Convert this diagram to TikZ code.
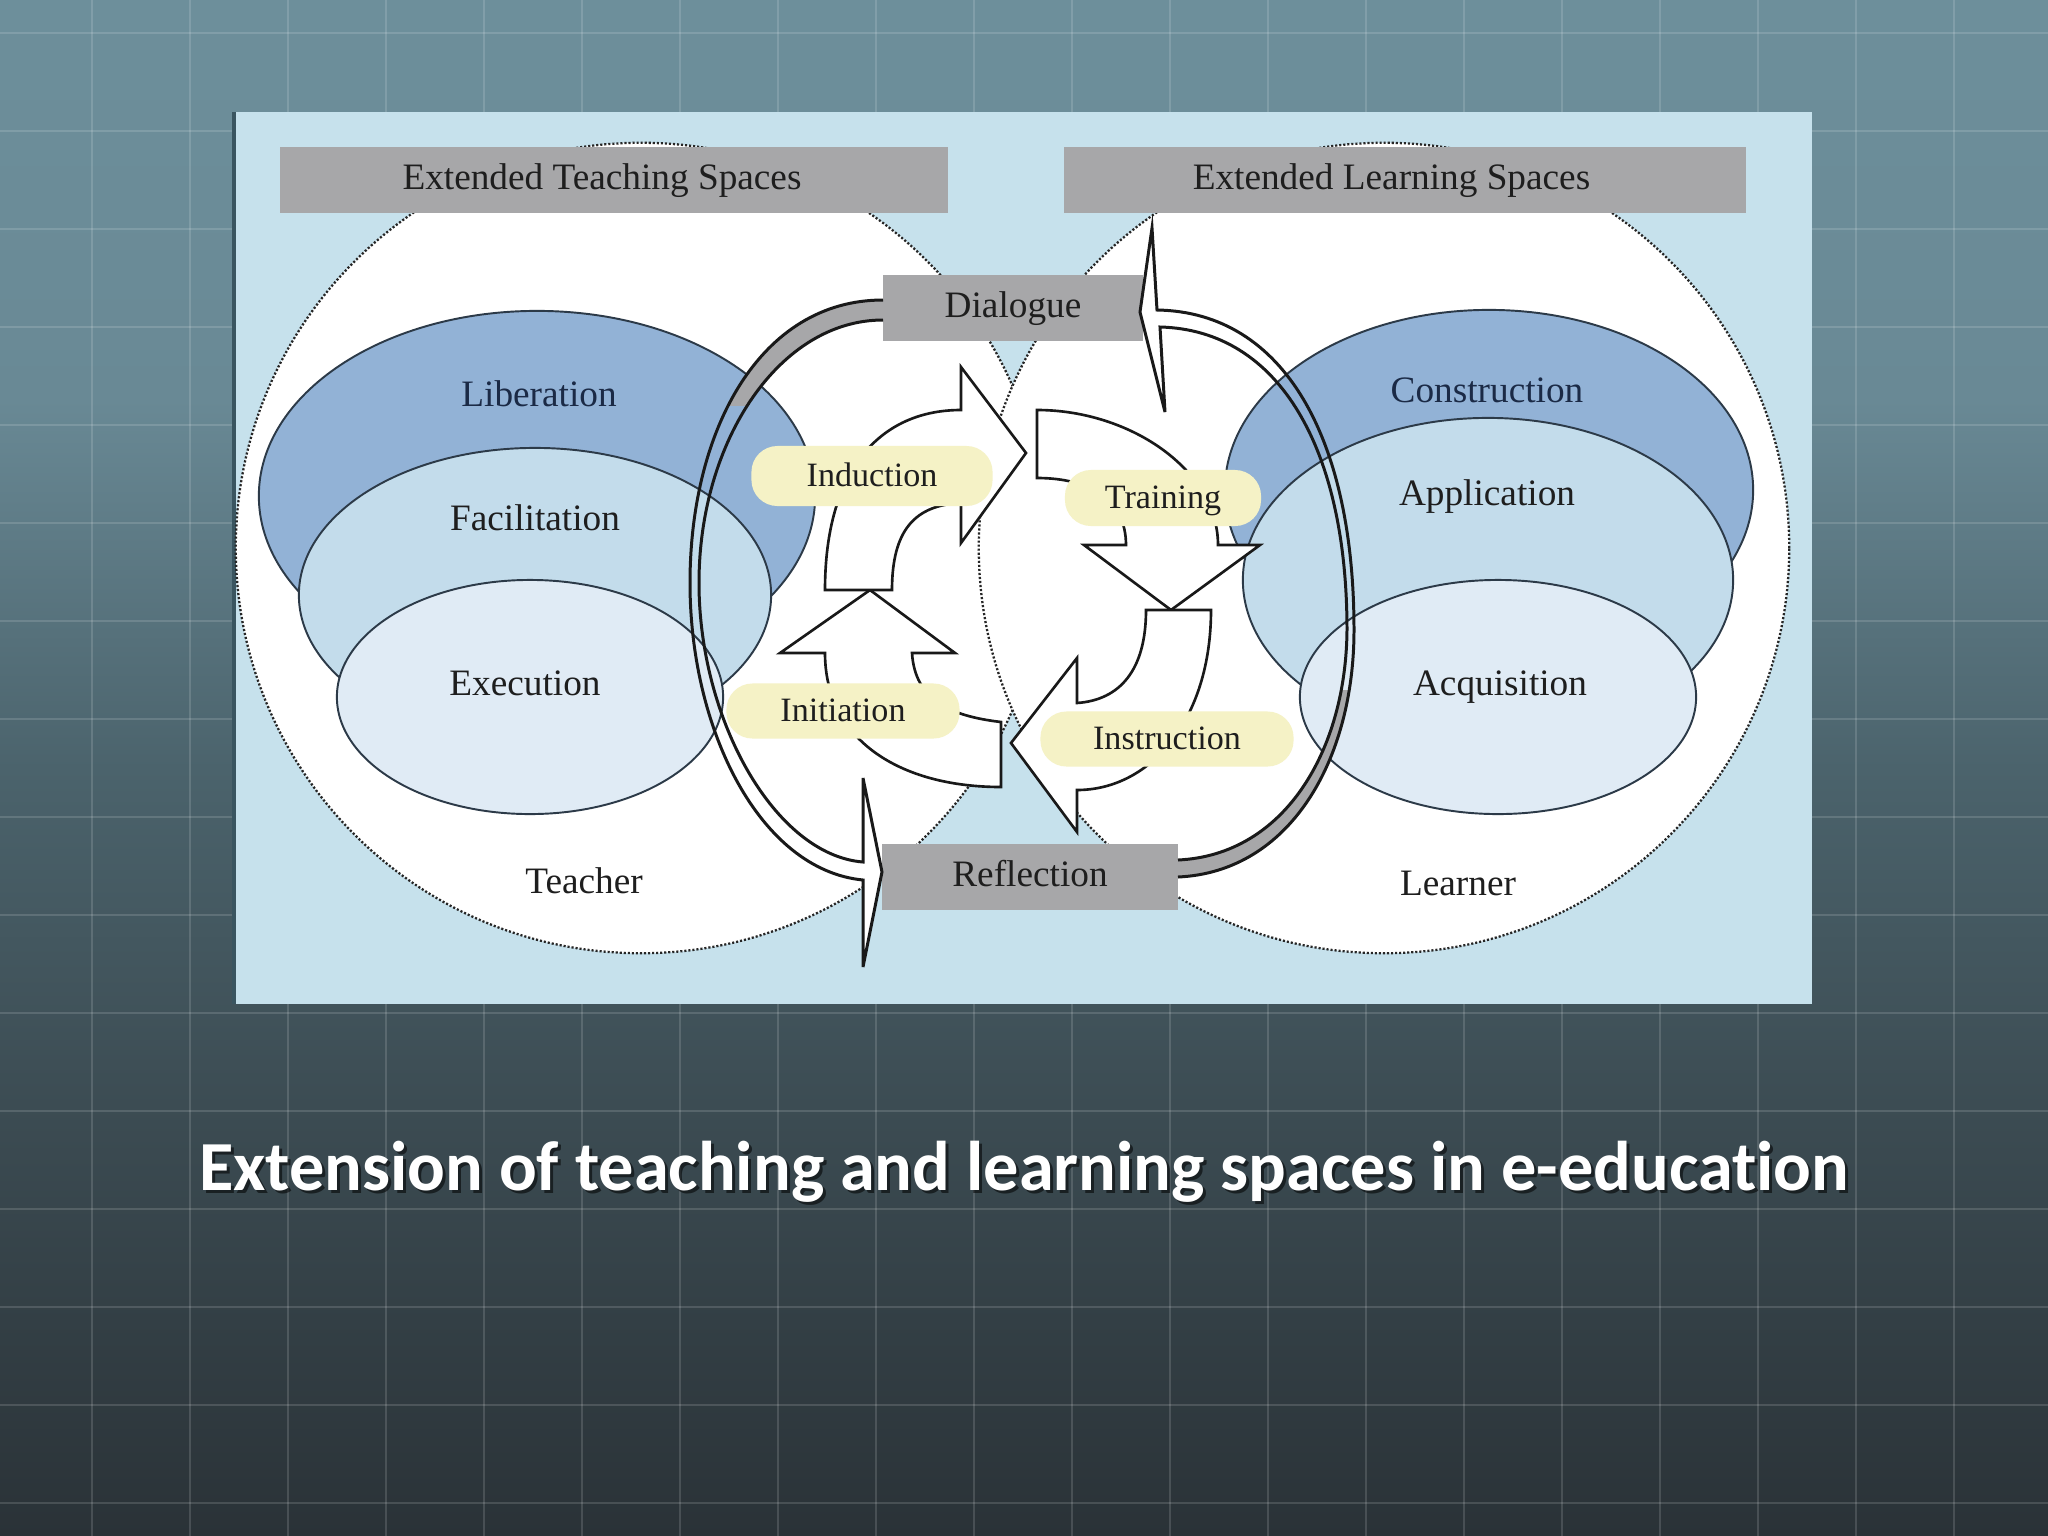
\documentclass[tikz,border=0pt]{standalone}
\usepackage{fontspec}
\setmainfont{Liberation Serif}
\newfontfamily\capfont[Ligatures=NoCommon]{Carlito}
\definecolor{bgtop}{HTML}{6D8F9B}
\definecolor{bghigh}{HTML}{698995}
\definecolor{bgmid}{HTML}{4B636C}
\definecolor{bglow}{HTML}{3C4C53}
\definecolor{bgbot}{HTML}{2A3237}
\definecolor{panelblue}{HTML}{C6E1EC}
\definecolor{paneledge}{HTML}{3A5560}
\definecolor{boxgray}{HTML}{A7A7A9}
\definecolor{bluedeep}{HTML}{92B2D6}
\definecolor{bluemid}{HTML}{C3DCEB}
\definecolor{bluepale}{HTML}{E0EBF5}
\definecolor{ringline}{HTML}{2C3A48}
\definecolor{pillyel}{HTML}{F5F2C6}
\definecolor{txtdark}{HTML}{1E1E1E}
\definecolor{navy}{HTML}{1B2A46}
\pgfdeclareverticalshading{slidebg}{100bp}{color(0bp)=(bgbot); color(25bp)=(bgbot); color(39bp)=(bglow); color(50bp)=(bgmid); color(62bp)=(bghigh); color(75bp)=(bgtop); color(100bp)=(bgtop)}

\begin{document}
\begin{tikzpicture}[x=0.01cm,y=-0.01cm,
  gridln/.style={draw=white,opacity=0.14,line width=0.7pt},
  dotring/.style={fill=white,draw=black!85,line width=0.65pt,dash pattern=on 0.6pt off 0.55pt},
  ring/.style={draw=ringline,line width=0.55pt},
  blk/.style={fill=white,draw=black!90,line width=0.75pt,line join=miter},
  loopln/.style={draw=black!90,line width=0.85pt,line join=miter},
  hdr/.style={fill=boxgray,inner sep=0pt,font=\fontsize{10.6}{12}\selectfont,text=txtdark,text height=7pt,text depth=1.6pt},
  pill/.style={fill=pillyel,rounded corners=0.26cm,inner sep=0pt,font=\fontsize{9.7}{11}\selectfont,text=txtdark,text height=7pt,text depth=1pt},
  lbl/.style={anchor=base,inner sep=0pt,font=\fontsize{10.6}{12}\selectfont,text=txtdark},
  caption/.style={anchor=base,inner sep=0pt,font=\capfont\bfseries\fontsize{20}{24}\selectfont}]

\useasboundingbox (0,0) rectangle (2048,1536);
\shade[shading=slidebg] (0,0) rectangle (2048,1536);
\foreach \gx in {-6,92,...,2052} \draw[gridln] (\gx,0) -- (\gx,1536);
\foreach \gy in {33,131,...,1503} \draw[gridln] (0,\gy) -- (2048,\gy);

\fill[panelblue] (234,112) rectangle (1812,1004);
\draw[paneledge,line width=1pt] (234,112) -- (234,1004);

\path[dotring] (641,548) circle [radius=4.05cm];
\path[ring,fill=bluedeep] (537,496) ellipse [x radius=2.78cm,y radius=1.85cm];
\path[ring,fill=bluemid] (535,595) ellipse [x radius=2.36cm,y radius=1.47cm];
\path[ring,fill=bluepale] (530,697) ellipse [x radius=1.93cm,y radius=1.17cm];
\path[dotring] (1384,548) circle [radius=4.05cm];
\path[ring,fill=bluedeep] (1489,490) ellipse [x radius=2.64cm,y radius=1.80cm];
\path[ring,fill=bluemid] (1488,580) ellipse [x radius=2.45cm,y radius=1.62cm];
\path[ring,fill=bluepale] (1498,697) ellipse [x radius=1.98cm,y radius=1.17cm];

\node[hdr,minimum width=6.67cm,minimum height=0.66cm](ets) at (614,180){Extended Teaching Spaces\hspace*{0.24cm}};
\node[hdr,minimum width=6.81cm,minimum height=0.65cm](els) at (1405,180){Extended Learning Spaces\hspace*{0.27cm}};
\node[hdr,minimum width=2.60cm,minimum height=0.65cm](dia) at (1013,308){Dialogue};
\node[hdr,minimum width=2.95cm,minimum height=0.65cm](rfl) at (1030,877){Reflection};

\coordinate (dlo) at (883,300);
\coordinate (dli) at (883,320);
\coordinate (rlo) at (1178,877);
\coordinate (rli) at (1178,860);

\begin{scope}
\clip (600,250) rectangle (900,405);
\fill[boxgray] (dlo) .. controls (760,300) and (690,430) .. (690,583) -- (699,583) .. controls (699,440) and (780,320) .. (dli) -- cycle;
\end{scope}
\begin{scope}
\clip (1170,690) rectangle (1400,900);
\fill[boxgray] (rlo) .. controls (1290,872) and (1354,760) .. (1354,630) -- (1347,630) .. controls (1346,750) and (1285,855) .. (rli) -- cycle;
\end{scope}
\fill[white] (863,778) -- (882,872) -- (863,967) -- cycle;
\fill[white] (1152,228) -- (1140,312) -- (1165,412) -- (1160,327) -- (1157,310) -- cycle;
\draw[loopln] (dlo) .. controls (760,300) and (690,430) .. (690,583) .. controls (690,730) and (760,870) .. (863,880) -- (863,967) -- (882,872) -- (863,778) -- (863,862) .. controls (775,855) and (699,720) .. (699,583) .. controls (699,440) and (780,320) .. (dli);
\draw[loopln] (rlo) .. controls (1290,872) and (1354,760) .. (1354,630) .. controls (1354,440) and (1285,312) .. (1157,310) -- (1152,228) -- (1140,312) -- (1165,412) -- (1160,327) .. controls (1280,330) and (1347,450) .. (1347,630) .. controls (1346,750) and (1285,855) .. (rli);

\draw[blk] (1001,787) -- (1001,722) .. controls (950,716) and (915,700) .. (912,653) -- (955,653) -- (870,590) -- (780,653) -- (825,653) .. controls (825,740) and (900,787) .. (1001,787) -- cycle;
\draw[blk] (825,590) -- (892,590) .. controls (892,530) and (915,505) .. (961,503) -- (961,543) -- (1026,453) -- (961,367) -- (961,410) .. controls (880,410) and (825,470) .. (825,590) -- cycle;
\draw[blk] (1037,478) -- (1037,410) .. controls (1130,410) and (1218,470) .. (1218,545) -- (1260,545) -- (1171,610) -- (1084,545) -- (1126,545) .. controls (1126,500) and (1090,478) .. (1037,478) -- cycle;
\draw[blk] (1146,610) -- (1211,610) .. controls (1211,720) and (1150,790) .. (1077,790) -- (1077,832) -- (1011,743) -- (1077,658) -- (1077,703) .. controls (1120,700) and (1146,670) .. (1146,610) -- cycle;

\node[pill,minimum width=2.41cm,minimum height=0.60cm](ind) at (872,476){Induction};
\node[pill,minimum width=1.96cm,minimum height=0.56cm](trn) at (1163,498){Training};
\node[pill,minimum width=2.33cm,minimum height=0.55cm](ini) at (843,711){Initiation};
\node[pill,minimum width=2.53cm,minimum height=0.55cm](ins) at (1167,739){Instruction};

\node[lbl,text=navy](lib) at (539,406){Liberation};
\node[lbl](fac) at (535,530){Facilitation};
\node[lbl](exe) at (525,695){Execution};
\node[lbl](tea) at (584,893){Teacher};
\node[lbl,text=navy](con) at (1487,402){Construction};
\node[lbl](app) at (1487,505){Application};
\node[lbl](acq) at (1500,695){Acquisition};
\node[lbl](lrn) at (1458,895){Learner};

\node[caption,text=black,opacity=0.55](capsh) at (1027,1193){Extension of teaching and learning spaces in e-education};
\node[caption,text=white](cap) at (1024,1190){Extension of teaching and learning spaces in e-education};

\end{tikzpicture}
\end{document}
